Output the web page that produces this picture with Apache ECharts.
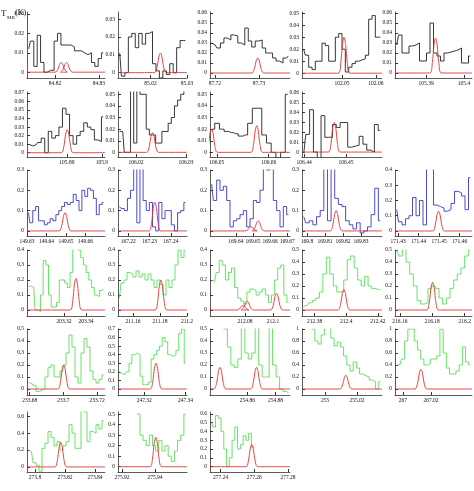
<!DOCTYPE html>
<html><head><meta charset="utf-8">
<script src="https://cdn.jsdelivr.net/npm/echarts@6/dist/echarts.min.js"></script>
<style>html,body{margin:0;padding:0;background:#fff}#c{width:474px;height:491px}</style>
</head><body><div id="c"></div>
<script>
// x ranges, y ranges, ticks, observed steps, model peaks [centre, height]
const xRanges=[[84.8136,84.8314],[85.0111,85.0300],[87.7189,87.7370],[102.0382,102.0618],[105.3818,105.4021],
[105.8786,105.9009],[106.0164,106.0302],[106.0487,106.0641],[106.4395,106.4586],
[149.63,149.67],[167.2152,167.2476],[169.6249,169.6716],[169.7972,169.8417],[171.4285,171.466],
[203.2864,203.3573],[211.1489,211.2],[212.055,212.1121],[212.372,212.4226],[216.157,216.2045],
[233.6784,233.7247],[247.3073,247.3407],[254.8334,254.8903],[254.9856,255.0356],[266.9943,267.0493],
[273.7947,273.8467],[275.9176,275.9594],[277.2337,277.2812]];
const yRanges=[[-0.003,0.031],[-0.003,0.034],[-0.005,0.061],[-0.004,0.051],[-0.005,0.061],
[-0.005,0.071],[-0.004,0.052],[-0.004,0.052],[-0.005,0.061],
[-0.025,0.3],[-0.025,0.3],[-0.025,0.3],[-0.025,0.3],[-0.033,0.4],
[-0.04,0.4],[-0.04,0.4],[-0.04,0.4],[-0.05,0.5],[-0.05,0.5],
[-0.05,0.5],[-0.07,0.7],[-0.05,0.5],[-0.1,1],[-0.1,1],
[-0.06,0.65],[-0.05,0.52],[-0.06,0.62]];
const yTicks=[[0,0.01,0.02,0.03],[0,0.01,0.02,0.03],[0,0.01,0.02,0.03,0.04,0.05,0.06],[0,0.01,0.02,0.03,0.04,0.05],[0,0.01,0.02,0.03,0.04,0.05,0.06],
[0,0.01,0.02,0.03,0.04,0.05,0.06,0.07],[0,0.01,0.02,0.03,0.04,0.05],[0,0.01,0.02,0.03,0.04,0.05],[0,0.01,0.02,0.03,0.04,0.05,0.06],
[0,0.1,0.2,0.3],[0,0.1,0.2,0.3],[0,0.1,0.2,0.3],[0,0.1,0.2,0.3],[0,0.1,0.2,0.3,0.4],
[0,0.1,0.2,0.3,0.4],[0,0.1,0.2,0.3,0.4],[0,0.1,0.2,0.3,0.4],[0,0.1,0.2,0.3,0.4,0.5],[0,0.1,0.2,0.3,0.4,0.5],
[0,0.1,0.2,0.3,0.4,0.5],[0,0.1,0.2,0.3,0.4,0.5,0.6,0.7],[0,0.1,0.2,0.3,0.4,0.5],[0,0.2,0.4,0.6,0.8,1],[0,0.2,0.4,0.6,0.8,1],
[0,0.2,0.4,0.6],[0,0.1,0.2,0.3,0.4,0.5],[0,0.1,0.2,0.3,0.4,0.5,0.6]];
const xTicks=[[84.82,84.83],[85.02,85.03],[87.72,87.73],[102.05,102.06],[105.39,105.4],
[105.89,105.9],[106.02,106.03],[106.05,106.06],[106.44,106.45],
[149.63,149.64,149.65,149.66],[167.22,167.23,167.24],[169.64,169.65,169.66,169.67],[169.8,169.81,169.82,169.83],[171.43,171.44,171.45,171.46],
[203.32,203.34],[211.16,211.18,211.2],[212.08,212.1],[212.38,212.4,212.42],[216.16,216.18,216.2],
[233.68,233.7,233.72],[247.32,247.34],[254.86,254.88],[255,255.02],[267,267.02],
[273.8,273.82,273.84],[275.92,275.94,275.96],[277.24,277.26,277.28]];
const steps=[
[0.012,0.016,0.003,0.019,0.005,0.0,0.001,0.001,0.016,0.02,0.014,0.014,0.014,0.013,0.011,0.011,0.010,0.009,0.010,0.005,0.003,0.007,0.010],
[0.011,-0.002,0.0,0.02,0.022,0.014,0.022,0.016,0.022,0.023,0.005,0.001,-0.003,0.001,-0.001,0.005,0.0,0.014,0.018,0.018],
[0.03,0.028,0.025,0.03,0.035,0.033,0.038,0.037,0.03,0.028,0.045,0.032,0.026,0.032,0.033,0.025,0.02,0.02,0.015,0.012,0.01,0.015,0.017],
[0.02,0.015,0.005,0.003,0.01,0.01,0.025,0.023,0.01,0.01,0.03,0.033,0.02,0.001,0.005,0.008,0.01,0.011,0.012,0.015,0.045,0.048,0.03,0.03],
[0.028,0.038,0.02,0.02,0.027,0.028,0.03,0.012,0.012,0.02,0.05,0.02,0.017,0.012,0.02,0.021,0.022,0.023,0.025,0.01,0.01,0.017],
[0.01,0.008,0.009,0.012,0.017,0.0,0.025,0.017,0.02,0.03,0.052,0.045,0.02,0.01,0.02,0.025,0.035,0.03,0.027,0.015,0.013,0.042],
[0.018,0.018,0.0,0.0,0.07,0.008,0.07,0.05,0.05,0.02,0.015,0.015,0.008,0.008,0.018,0.018,0.025,0.03,0.04,0.045,0.05,0.06],
[0.02,0.025,0.02,0.018,0.017,0.016,0.014,0.015,0.025,0.038,0.038,0.015,0.008,0.0,-0.005,0.0,0.05],
[0.0,0.018,0.043,0.0,-0.01,0.037,0.015,0.015,0.028,0.025,0.03,0.03,0.005,0.006,0.007,0.016,0.008,0.002,0.0,0.028,0.022],
[0.09,0.04,0.1,0.12,0.05,0.05,0.03,0.04,0.06,0.05,0.08,0.1,0.12,0.14,0.13,0.14,0.18,0.15,0.1,0.2,0.17,0.21,0.2,0.16,0.08,0.13,0.14],
[0.12,0.11,0.1,0.16,0.2,0.35,0.04,0.35,0.15,0.1,0.14,0.02,0.0,0.14,0.06,0.1,0.1,0.03,0.0,0.09,0.1,0.14],
[0.23,0.15,0.25,0.2,0.22,0.15,0.02,0.05,0.06,0.08,0.1,0.02,0.06,0.15,0.14,0.2,0.35,0.3,0.35,0.15,0.1,0.02,0.12,0.08],
[0.07,0.04,0.05,0.03,0.07,0.1,0.35,0.05,0.35,0.16,0.13,0.12,0.05,0.03,0.01,0.04,-0.01,0.0,0.02,0.08,0.21,0.05],
[0.14,0.06,0.04,0.08,0.1,0.22,0.1,0.2,0.04,0.45,0.5,0.17,0.16,0.15,0.13,0.14,0.18,0.26,0.25,0.23,0.14,0.35],
[0.16,0.16,0.15,0.0,-0.01,0.1,0.33,0.3,0.1,0.02,0.02,0.05,0.2,0.2,0.18,0.15,0.25,0.45,0.45,0.4,0.35,0.3,0.25,0.2,0.15,0.1,0.09,0.13,0.14],
[0.08,0.18,0.2,0.25,0.24,0.22,0.26,0.22,0.24,0.2,0.24,0.2,0.15,0.2,0.17,0.1,0.2,0.15,0.2,0.3,0.4,0.35,0.4],
[0.2,0.19,0.25,0.33,0.3,0.2,0.25,0.28,0.15,0.08,0.06,0.04,0.12,0.14,0.13,0.1,0.12,0.14,0.1,0.05,0.1,0.2,0.28,0.3,0.1,0.05],
[0.03,0.04,0.06,0.08,0.1,0.15,0.3,0.44,0.3,0.2,0.15,0.15,0.25,0.42,0.45,0.35,0.25,0.2,0.28,0.2,0.18,0.17,0.17],
[0.5,0.45,0.6,0.4,0.3,0.2,0.08,0.05,0.06,0.18,0.2,0.18,0.1,0.05,0.1,0.18,0.25,0.3,0.35,0.45,0.5],
[0.05,0.05,0.03,-0.02,-0.01,0.0,0.1,0.18,0.2,0.1,0.1,0.15,0.2,0.3,0.45,0.35,0.1,0.05,0.3,0.42,0.35,0.15,0.08,0.05,0.08,0.12],
[0.2,0.18,0.17,0.2,0.3,0.4,0.42,0.4,0.15,0.05,0.05,0.08,0.35,0.4,0.45,0.5,0.6,0.55,0.4,0.38,0.4,0.45,0.65,0.7,0.3],
[null,null,null,0.7,0.5,0.35,0.2,0.18,0.25,0.7,0.3,0.25,0.3,0.7,0.2,0.1,0.1,0.7,0.2,0.1,0.0,-0.02,-0.03],
[null,null,null,1.0,0.8,0.75,0.9,1.2,1.1,0.85,0.72,0.78,0.7,0.55,0.4,0.3,0.45,0.35,0.25,0.22,0.2,0.15,0.12,0.0,0.12],
[0.4,0.4,0.5,0.8,1.0,1.0,0.8,0.65,0.5,0.4,0.42,0.5,0.5,0.55,1.0,0.6,0.35,0.25,0.25,0.3,0.4,0.7,0.45,0.4],
[0.2,0.18,0.05,0.02,-0.05,0.22,0.28,0.42,0.35,0.25,0.3,0.2,0.25,0.3,0.5,0.4,0.22,0.22,0.68,0.65,0.3,0.42,0.4,0.5,0.45,0.55],
[null,null,null,null,null,null,0.5,0.3,0.25,0.2,0.3,0.2,0.15,0.25,0.15,0.2,0.1,0.05,0.15,0.25,0.3,0.5],
[0.5,0.45,0.58,0.55,0.4,0.2,0.0,0.1,0.3,0.45,0.2,0.25,0.35,0.3,0.38,0.22,null,null,null,null,null,null,null,null,null,null,null,null,null]];
const peaks=[[[84.8214,0.005],[84.8226,0.005]],[[85.0227,0.011]],[[87.7297,0.015]],[[102.0506,0.03]],[[105.3925,0.035]],
[[105.8901,0.027]],[[106.0233,0.017]],[[106.0490,0.02],[106.0577,0.023]],[[106.4472,0.03]],
[[149.6495,0.09]],[[167.2325,0.14]],[[169.6489,0.02],[169.6530,0.05]],[[169.8162,0.1]],[[171.4497,0.13]],
[[203.3309,0.21]],[[211.1807,0.2]],[[212.0785,0.03],[212.0815,0.06],[212.1025,0.11]],[[212.3985,0.17]],[[216.1802,0.23]],
[[233.7002,0.2]],[[247.3257,0.3]],[[254.8405,0.18],[254.8665,0.18]],[[255.013,0.23]],[[267.0128,0.33]],
[[273.8172,0.29]],[[275.9405,0.28]],[[277.2585,0.25]]];
const colors=[0,0,0,0,0,0,0,0,0,1,1,1,1,1,2,2,2,2,2,2,2,2,2,2,2,2,2];
const palette=['#222','#3838c8','#58e058'];

const rows=[[12,66],[92,65],[170,66],[250,66],[329,66],[412,60]];
const cols=[[27,78],[118,69],[210,80],[302,80],[395,77]];
const rowOf=[0,0,0,0,0,1,1,1,1,2,2,2,2,2,3,3,3,3,3,4,4,4,4,4,5,5,5];
const colOf=[0,1,2,3,4,0,1,2,3,0,1,2,3,4,0,1,2,3,4,0,1,2,3,4,0,1,2];
const font={fontFamily:'Liberation Serif',fontSize:5.5,color:'#111'};
const grid=[],xAxis=[],yAxis=[],series=[];
for(let i=0;i<xRanges.length;i++){
  const [t,h]=rows[rowOf[i]],[l,w]=cols[colOf[i]];
  grid.push({left:l,top:t,width:w,height:h});
  const [x0,x1]=xRanges[i],[y0,y1]=yRanges[i];
  xAxis.push({type:'value',gridIndex:i,min:x0,max:x1,
    axisLine:{show:true,onZero:false,lineStyle:{color:'#333',width:0.8}},
    axisTick:{show:true,inside:true,length:3,customValues:xTicks[i],lineStyle:{color:'#333'}},
    axisLabel:{...font,margin:3,customValues:xTicks[i],formatter:v=>String(+v.toFixed(2))},
    splitLine:{show:false}});
  yAxis.push({type:'value',gridIndex:i,min:y0,max:y1,
    axisLine:{show:true,lineStyle:{color:'#333',width:0.8}},
    axisTick:{show:true,inside:true,length:3,customValues:yTicks[i],lineStyle:{color:'#333'}},
    axisLabel:{...font,margin:3,customValues:yTicks[i],formatter:v=>String(+v.toFixed(2))},
    splitLine:{show:false}});
  const n=steps[i].length,dx=(x1-x0)/n;
  series.push({type:'line',xAxisIndex:i,yAxisIndex:i,step:'middle',symbol:'none',animation:false,
    lineStyle:{color:palette[colors[i]],width:0.9},
    data:steps[i].map((v,k)=>[x0+(k+0.5)*dx,v])});
  const pw=2.3*(x1-x0)/w;
  const pts=[[x0,0]];
  peaks[i].slice().sort((a,b)=>a[0]-b[0]).forEach(([c,hh])=>{
    pts.push([c-2.6*pw,0],[c-1.4*pw,0.3*hh],[c-0.7*pw,0.8*hh],[c,hh],[c+0.7*pw,0.8*hh],[c+1.4*pw,0.3*hh],[c+2.6*pw,0]);
  });
  pts.push([x1,0]);
  series.push({type:'line',xAxisIndex:i,yAxisIndex:i,smooth:0.3,symbol:'none',animation:false,
    lineStyle:{color:'#e83030',width:0.9},data:pts});
}
const chart=echarts.init(document.getElementById('c'),null,{renderer:'canvas'});
chart.setOption({backgroundColor:'#fff',animation:false,grid,xAxis,yAxis,series,
  graphic:[{type:'text',left:1,top:9,style:{text:'T',font:'9px Liberation Serif',fill:'#111'}},
    {type:'text',left:7,top:15,style:{text:'MB',font:'5px Liberation Serif',fill:'#111'}},
    {type:'text',left:15,top:9,style:{text:'(K)',font:'8px Liberation Serif',fill:'#111'}}]});
</script></body></html>
